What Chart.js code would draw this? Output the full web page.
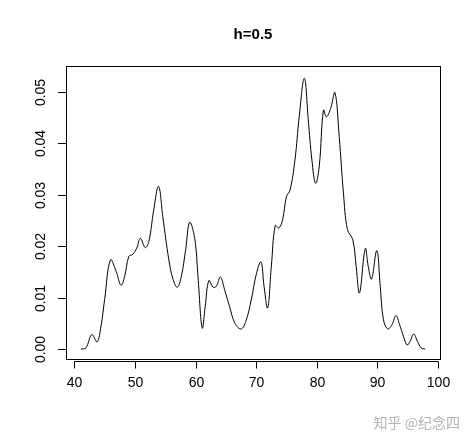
<!DOCTYPE html>
<html>
<head>
<meta charset="utf-8">
<script src="https://cdn.jsdelivr.net/npm/chart.js@4"></script>
<style>
  html, body { margin: 0; padding: 0; background: #fff; }
  #wrap { width: 474px; height: 444px; }
</style>
</head>
<body>
<div id="wrap"><canvas id="chart"></canvas></div>
<script>
"use strict";

const xValues = [41.1, 41.9, 42.9, 43.75, 44.4, 45, 45.96, 46.9, 47.7, 48.3, 49, 49.65, 50.3, 50.9, 51.7, 52.3,
    53.1, 53.9, 54.6, 55.6, 56.3, 57, 57.65, 58.37, 59.03, 59.86, 60.4, 61.1, 61.6, 62.2, 62.9, 63.44, 64.1,
    64.8, 65.6, 66.5, 67.5, 68.3, 69.2, 70.06, 70.8, 71.3, 71.9, 72.5, 73.15, 73.75, 74.36, 75.0, 75.6, 76.4,
    77.1, 77.95, 78.6, 79.2, 79.8, 80.4, 81.1, 81.6, 82.3, 83.0, 83.7, 84.4, 85.06, 85.95, 86.5, 87.05, 88.0,
    88.5, 89.03, 89.9, 90.47, 91.0, 91.7, 92.4, 93.06, 93.67, 94.3, 94.9, 95.4, 96.0, 96.6, 97.25, 97.9];
const densityValues = [0, 0.0002, 0.0028, 0.0014, 0.0044, 0.0096, 0.0173, 0.0151, 0.0124, 0.0141, 0.018, 0.0184,
    0.0196, 0.0215, 0.0197, 0.0209, 0.027, 0.0316, 0.0257, 0.0173, 0.0135, 0.012, 0.0141, 0.0193, 0.0246, 0.0215,
    0.0141, 0.0041, 0.0083, 0.0133, 0.012, 0.0122, 0.014, 0.0115, 0.0083, 0.005, 0.0039, 0.0054, 0.0096, 0.0147,
    0.0169, 0.0122, 0.008, 0.016, 0.024, 0.0235, 0.0251, 0.0296, 0.0309, 0.0367, 0.0451, 0.0526, 0.0445, 0.0367,
    0.0322, 0.0354, 0.0464, 0.0451, 0.0468, 0.0498, 0.0413, 0.0303, 0.0232, 0.0212, 0.016, 0.0109, 0.0195, 0.016,
    0.0136, 0.0191, 0.0122, 0.0057, 0.0039, 0.0047, 0.0065, 0.0047, 0.0025, 0.0008, 0.0015, 0.0029, 0.0015,
    0.0002, 0];
const xTicks = [40, 50, 60, 70, 80, 90, 100];
const yTicks = [0, 0.01, 0.02, 0.03, 0.04, 0.05];
const yTickLabels = ["0.00", "0.01", "0.02", "0.03", "0.04", "0.05"];
const titleText = "h=0.5";

// R style axes: box, detached x axis, rotated y labels
const rAxes = {
    id: "rAxes",
    afterDraw(chart) {
        const c = chart.ctx, a = chart.chartArea;
        const sx = chart.scales.x, sy = chart.scales.y;
        c.save();
        c.strokeStyle = "#000";
        c.lineWidth = 1;
        c.strokeRect(a.left + 0.5, a.top + 0.5, a.right - a.left, a.bottom - a.top);
        c.fillStyle = "#000";
        c.font = "14px 'Liberation Sans', Arial, sans-serif";
        // x axis
        const ay = a.bottom + 2.5;
        c.beginPath();
        c.moveTo(sx.getPixelForValue(xTicks[0]), ay);
        c.lineTo(sx.getPixelForValue(xTicks[xTicks.length - 1]), ay);
        c.stroke();
        c.textAlign = "center";
        c.textBaseline = "middle";
        xTicks.forEach(v => {
            const px = Math.round(sx.getPixelForValue(v)) + 0.5;
            c.beginPath();
            c.moveTo(px, ay);
            c.lineTo(px, ay + 7);
            c.stroke();
            c.fillText(String(v), px, a.bottom + 24);
        });
        // y axis
        yTicks.forEach((v, i) => {
            const py = Math.round(sy.getPixelForValue(v)) + 0.5;
            c.beginPath();
            c.moveTo(a.left - 8, py);
            c.lineTo(a.left, py);
            c.stroke();
            c.save();
            c.translate(a.left - 25, py);
            c.rotate(-Math.PI / 2);
            c.fillText(yTickLabels[i], 0, 0);
            c.restore();
        });
        // title
        c.font = "bold 15px 'Liberation Sans', Arial, sans-serif";
        c.fillText(titleText, (a.left + a.right) / 2, 35);
        // watermark
        c.font = "14px 'Noto Sans CJK SC', sans-serif";
        c.fillStyle = "#b4b4b4";
        c.textAlign = "right";
        c.fillText("知乎 @纪念四", 460, 423);
        c.restore();
    }
};

new Chart(document.getElementById("chart"), {
    type: "line",
    data: {
        datasets: [{
            data: xValues.map((x, i) => ({ x: x, y: densityValues[i] })),
            borderColor: "#000",
            borderWidth: 1,
            pointRadius: 0,
            tension: 0.4,
            fill: false
        }]
    },
    options: {
        responsive: true,
        maintainAspectRatio: false,
        animation: false,
        layout: { padding: { left: 66, right: 34, top: 66, bottom: 85 } },
        plugins: { legend: { display: false }, tooltip: { enabled: false } },
        scales: {
            x: {
                type: "linear", min: 38.63, max: 100.33,
                display: false
            },
            y: {
                min: -0.00194, max: 0.05498,
                display: false
            }
        }
    },
    plugins: [rAxes]
});
</script>
</body>
</html>
